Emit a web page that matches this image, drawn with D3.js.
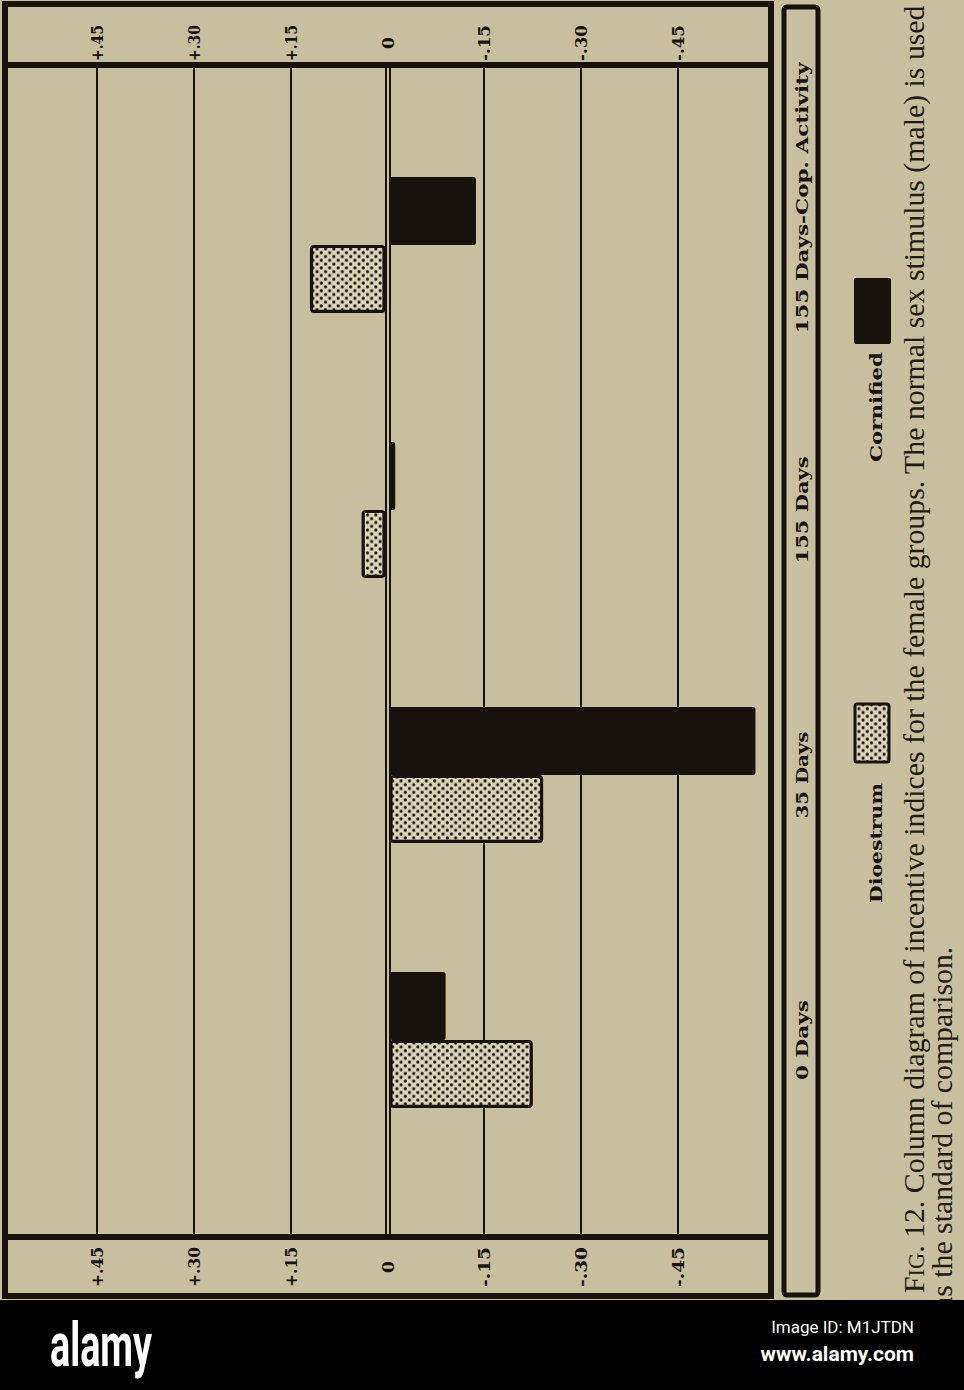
<!DOCTYPE html>
<html>
<head>
<meta charset="utf-8">
<script src="https://cdn.jsdelivr.net/npm/d3@7"></script>
<style>
  html, body { margin: 0; padding: 0; background: #c8bf9f; }
  svg { display: block; }
</style>
</head>
<body>
<svg id="chart" width="964" height="1390"></svg>
<script>
// ---- data ----
const categories = ["0 Days", "35 Days", "155 Days", "155 Days-Cop. Activity"];
const seriesNames = ["Cornified", "Dioestrum"];
const cornified = [-0.09, -0.57, -0.012, -0.137];
const dioestrum = [-0.225, -0.241, 0.04, 0.12];
const tickValues = [0.45, 0.30, 0.15, 0, -0.15, -0.30, -0.45];
const tickLabels = ["+.45", "+.30", "+.15", "0", "-.15", "-.30", "-.45"];
const captionLines = [
  "Fig. 12. Column diagram of incentive indices for the female groups. The normal sex stimulus (male) is used",
  "as the standard of comparison."
];
const footerTexts = ["alamy", "Image ID: M1JTDN", "www.alamy.com"];

// ---- setup ----
const ink = "#17120e";
const paper = "#c8bf9f";
const svg = d3.select("#chart");
svg.append("rect").attr("width", 964).attr("height", 1390).attr("fill", paper);

const defs = svg.append("defs");
const pat = defs.append("pattern").attr("id", "dots").attr("patternUnits", "userSpaceOnUse")
  .attr("width", 8.4).attr("height", 7.6);
pat.append("rect").attr("width", 8.4).attr("height", 7.6).attr("fill", "#ddd5b8");
pat.append("circle").attr("cx", 2.1).attr("cy", 1.9).attr("r", 1.6).attr("fill", ink);
pat.append("circle").attr("cx", 6.3).attr("cy", 5.7).attr("r", 1.6).attr("fill", ink);

// scales (value axis runs horizontally, positive to the left)
const x = d3.scaleLinear().domain([0.45, -0.45]).range([97, 678]);
const y = d3.scaleBand().domain(categories.slice().reverse()).range([112.5, 1172.5])
  .paddingInner(0.487).paddingOuter(0.2435);
const ySub = d3.scaleBand().domain(seriesNames).range([0, y.bandwidth()]);

const plotTop = 65, plotBottom = 1237, frameL = 5, frameR = 771, frameT = 4, frameB = 1296;
const slabFont = "'DejaVu Serif', 'Liberation Serif', serif";

// grid lines
const grid = svg.append("g");
tickValues.forEach(v => {
  if (v === 0) {
    [-1.5, 2.5].forEach(o => grid.append("line")
      .attr("x1", x(v) + o).attr("x2", x(v) + o)
      .attr("y1", plotTop).attr("y2", plotBottom)
      .attr("stroke", ink).attr("stroke-width", 2));
  } else {
    grid.append("line").attr("x1", Math.round(x(v))).attr("x2", Math.round(x(v)))
      .attr("y1", plotTop).attr("y2", plotBottom)
      .attr("stroke", ink).attr("stroke-width", 2);
  }
});

// bars
const rows = categories.map((c, i) => ({ cat: c, values: [
  { s: "Cornified", v: cornified[i] }, { s: "Dioestrum", v: dioestrum[i] } ] }));
const bars = svg.append("g");
rows.forEach(r => {
  r.values.forEach(d => {
    const x0 = d.v < 0 ? x(0) + 2 : x(d.v);
    const x1 = d.v < 0 ? x(d.v) : x(0) - 2;
    const isDot = d.s === "Dioestrum";
    bars.append("rect")
      .attr("x", isDot ? x0 + 1.5 : x0)
      .attr("y", y(r.cat) + ySub(d.s) + (isDot ? 1.5 : 0))
      .attr("width", Math.max(1, x1 - x0 - (isDot ? 3 : 0)))
      .attr("height", ySub.bandwidth() - (isDot ? 3 : 0))
      .attr("rx", 2.5)
      .attr("fill", isDot ? "url(#dots)" : ink)
      .attr("stroke", isDot ? ink : "none")
      .attr("stroke-width", isDot ? 3.2 : 0);
  });
});

// frame
const frame = svg.append("g").attr("fill", "none").attr("stroke", ink);
frame.append("rect").attr("x", frameL).attr("y", frameT)
  .attr("width", frameR - frameL).attr("height", frameB - frameT)
  .attr("stroke-width", 6);
[plotTop, plotBottom].forEach(yy => frame.append("line")
  .attr("x1", frameL).attr("x2", frameR).attr("y1", yy).attr("y2", yy)
  .attr("stroke-width", 6));

// tick labels (top and bottom bands), rotated
function rotText(g, tx, ty, txt) {
  return g.append("text").attr("transform", `translate(${tx},${ty}) rotate(-90)`).text(txt);
}
const tl = svg.append("g").attr("font-family", slabFont).attr("font-weight", "bold")
  .attr("font-size", 17).attr("fill", ink).attr("text-anchor", "middle");
tickValues.forEach((v, i) => {
  const lab = tickLabels[i];
  const t1 = rotText(tl, x(v) + 6, 43, lab);
  const t2 = rotText(tl, x(v) + 6, 1267, lab);
  if (lab.length > 1) { t1.attr("textLength", 36).attr("lengthAdjust", "spacingAndGlyphs");
                        t2.attr("textLength", 40).attr("lengthAdjust", "spacingAndGlyphs"); }
});

// category label box
svg.append("rect").attr("x", 784).attr("y", 7).attr("width", 34).attr("height", 1288)
  .attr("rx", 3).attr("fill", "none").attr("stroke", ink).attr("stroke-width", 5);
const cl = svg.append("g").attr("font-family", slabFont).attr("font-weight", "bold")
  .attr("font-size", 16).attr("fill", ink).attr("text-anchor", "middle");
const catSpan = [80, 87, 107, 271];
categories.forEach((c, i) => {
  const off = i === categories.length - 1 ? -47 : 0;
  rotText(cl, 808, y(c) + y.bandwidth() / 2 + off, c)
    .attr("textLength", catSpan[i]).attr("lengthAdjust", "spacingAndGlyphs");
});

// legend
const lg = svg.append("g");
lg.append("rect").attr("x", 854).attr("y", 278).attr("width", 37).attr("height", 66)
  .attr("rx", 2).attr("fill", ink);
lg.append("rect").attr("x", 855).attr("y", 704).attr("width", 34).attr("height", 58)
  .attr("rx", 2).attr("fill", "url(#dots)").attr("stroke", ink).attr("stroke-width", 3);
const lt = lg.append("g").attr("font-family", slabFont).attr("font-weight", "bold")
  .attr("font-size", 16).attr("fill", ink).attr("text-anchor", "start");
rotText(lt, 882, 462, seriesNames[0]).attr("textLength", 110).attr("lengthAdjust", "spacingAndGlyphs");
rotText(lt, 882, 903, "Dioestrum").attr("textLength", 120).attr("lengthAdjust", "spacingAndGlyphs");

// caption
const cap = svg.append("g").attr("font-family", "'Liberation Serif', 'DejaVu Serif', serif")
  .attr("font-size", 23).attr("fill", "#211b13").attr("text-anchor", "start");
const c1 = rotText(cap, 924, 1293, null);
c1.append("tspan").text("F");
c1.append("tspan").attr("font-size", 17).text("IG");
c1.append("tspan").text(captionLines[0].slice(3));
const w = c1.node().getComputedTextLength();
const target = 1288;
const fs = 23 * target / w;
cap.attr("font-size", fs);
c1.select("tspan:nth-child(2)").attr("font-size", fs * 0.75);
rotText(cap, 952, 1310, captionLines[1]);

// footer band
svg.append("rect").attr("x", 0).attr("y", 1300).attr("width", 964).attr("height", 90)
  .attr("fill", "#000");
svg.append("text").attr("x", 50).attr("y", 1366)
  .attr("font-family", "'Liberation Sans Narrow', 'Roboto', sans-serif")
  .attr("font-weight", "bold").attr("font-size", 62).attr("fill", "#fff")
  .attr("textLength", 102).attr("lengthAdjust", "spacingAndGlyphs")
  .text(footerTexts[0]);
svg.append("text").attr("x", 914).attr("y", 1333).attr("text-anchor", "end")
  .attr("font-family", "'Liberation Sans Narrow', 'Roboto', sans-serif")
  .attr("font-size", 17).attr("fill", "#fff").text(footerTexts[1]);
svg.append("text").attr("x", 914).attr("y", 1361).attr("text-anchor", "end")
  .attr("font-family", "'Liberation Sans Narrow', 'Roboto', sans-serif")
  .attr("font-weight", "bold").attr("font-size", 21).attr("fill", "#fff").text(footerTexts[2]);
</script>
</body>
</html>
